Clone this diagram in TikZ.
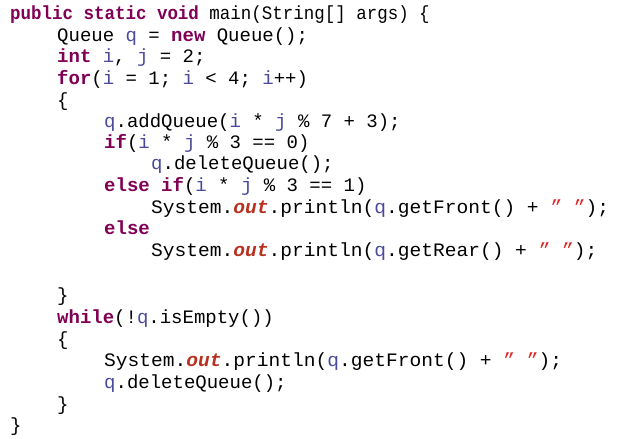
\documentclass[tikz,border=0pt]{standalone}
\usepackage{fontspec}
\setmainfont{Liberation Mono}
\definecolor{kwc}{HTML}{7F0055}
\definecolor{vrc}{HTML}{4A4A9A}
\definecolor{stc}{HTML}{E02828}
\definecolor{otc}{HTML}{B83020}
\newcommand{\kw}[1]{{\bfseries\color{kwc}#1}}
\newcommand{\vr}[1]{{\color{vrc}#1}}
\newcommand{\strg}[1]{{\color{stc}#1}}
\newcommand{\outk}[1]{{\bfseries\itshape\color{otc}#1}}
\tikzset{code/.style={anchor=base west,inner sep=0pt,font=\fontsize{19}{22}\selectfont}}
\begin{document}
\begin{tikzpicture}[x=1pt,y=1pt]
\useasboundingbox (0,0) rectangle (640,439);
\node[code,xscale=0.92] (l1) at (10,419) {\kw{public\ static\ void}\ main(String[]\ args)\ \{};
\node[code] (l2) at (57,397) {Queue\ \vr{q}\ =\ \kw{new}\ Queue();};
\node[code] (l3) at (57,376) {\kw{int}\ \vr{i},\ \vr{j}\ =\ 2;};
\node[code] (l4) at (57,354) {\kw{for}(\vr{i}\ =\ 1;\ \vr{i}\ <\ 4;\ \vr{i}++)};
\node[code] (l5) at (57,332) {\{};
\node[code] (l6) at (104,311) {\vr{q}.addQueue(\vr{i}\ *\ \vr{j}\ \%\ 7\ +\ 3);};
\node[code] (l7) at (104,290) {\kw{if}(\vr{i}\ *\ \vr{j}\ \%\ 3\ ==\ 0)};
\node[code] (l8) at (151,269) {\vr{q}.deleteQueue();};
\node[code] (l9) at (104,247) {\kw{else\ if}(\vr{i}\ *\ \vr{j}\ \%\ 3\ ==\ 1)};
\node[code,xscale=1.03] (l10) at (151,225) {System.\outk{out}.println(\vr{q}.getFront()\ +\ \strg{"\ "});};
\node[code] (l11) at (104,204) {\kw{else}};
\node[code,xscale=1.03] (l12) at (151,182) {System.\outk{out}.println(\vr{q}.getRear()\ +\ \strg{"\ "});};
\node[code] (l14) at (57,137) {\}};
\node[code] (l15) at (57,115) {\kw{while}(!\vr{q}.isEmpty())};
\node[code] (l16) at (57,93) {\{};
\node[code,xscale=1.03] (l17) at (104,72) {System.\outk{out}.println(\vr{q}.getFront()\ +\ \strg{"\ "});};
\node[code] (l18) at (104,50) {\vr{q}.deleteQueue();};
\node[code] (l19) at (57,28) {\}};
\node[code] (l20) at (10,7) {\}};
\end{tikzpicture}
\end{document}
